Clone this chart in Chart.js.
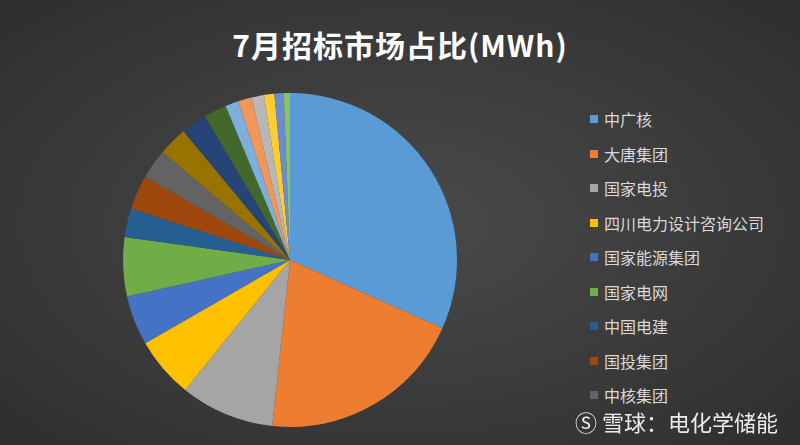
<!DOCTYPE html>
<html><head><meta charset="utf-8">
<script src="https://cdn.jsdelivr.net/npm/chart.js@4/dist/chart.umd.min.js"></script>
<style>
body{margin:0;width:800px;height:445px;overflow:hidden;background:radial-gradient(ellipse at center,#4a4a4a 0%,#3a3a3a 60%,#2e2e2e 100%);font-family:"Noto Sans CJK SC",sans-serif;position:relative}
#t{position:absolute;top:22px;left:0;width:800px;text-align:center;color:#fff;font-size:30px;font-weight:bold;letter-spacing:1px}
#c{position:absolute;left:0;top:0}
#lg{position:absolute;left:590px;top:102px;color:#d9d9d9;font-size:16px}
#lg div{height:34.5px;display:flex;align-items:center}
#lg span{display:inline-block;width:8px;height:8px;margin-right:6px}
#wm{position:absolute;right:22px;bottom:8px;color:#fff;font-size:22px;opacity:.9}
</style></head><body>
<div id="t">7月招标市场占比(MWh)</div>
<canvas id="c" width="580" height="445"></canvas>
<div id="lg"></div>
<div id="wm">Ⓢ 雪球：电化学储能</div>
<script>
const labels=["中广核","大唐集团","国家电投","四川电力设计咨询公司","国家能源集团","国家电网","中国电建","国投集团","中核集团","其他1","其他2","其他3","其他4","其他5","其他6","其他7","其他8","其他9"];
const values=[31.7,20.0,9.1,5.9,4.8,5.7,2.8,3.3,2.9,2.8,2.5,2.2,1.3,1.3,1.2,1.0,0.9,0.6];
const colors=["#5B9BD5","#ED7D31","#A5A5A5","#FFC000","#4472C4","#70AD47","#255E91","#9E480E","#636363","#997300","#264478","#43682B","#7CAFDD","#F1975A","#B7B7B7","#FFCD33","#698ED0","#8CC168"];
new Chart(document.getElementById('c'),{type:'pie',
data:{labels,datasets:[{data:values,backgroundColor:colors,borderWidth:0}]},
options:{responsive:false,animation:false,layout:{padding:{top:93,bottom:18,left:0,right:0}},
plugins:{legend:{display:false},tooltip:{enabled:false}}}});
const lg=document.getElementById('lg');
labels.slice(0,9).forEach((l,i)=>{const d=document.createElement('div');d.innerHTML='<span style="background:'+colors[i]+'"></span>'+l;lg.appendChild(d);});
</script></body></html>
